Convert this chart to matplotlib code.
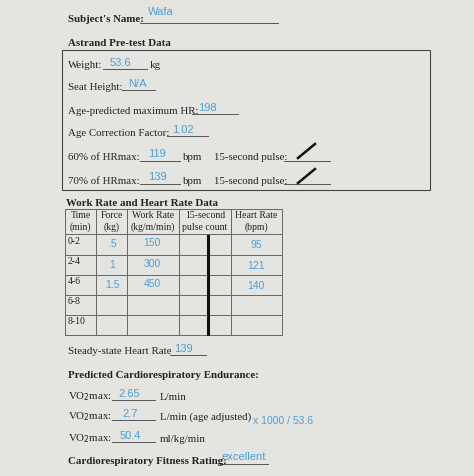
import matplotlib
matplotlib.use("Agg")
import matplotlib.pyplot as plt

times = ["0-2", "2-4", "4-6", "6-8", "8-10"]
forces = [".5", "1", "1.5", "", ""]
work_rates = ["150", "300", "450", "", ""]
heart_rates = ["95", "121", "140", "", ""]
headers = [("Time", "(min)"), ("Force", "(kg)"), ("Work Rate", "(kg/m/min)"),
           ("15-second", "pulse count"), ("Heart Rate", "(bpm)")]
col_x = [65, 96, 127, 179, 231, 282]
row_y = [209, 234, 255, 275, 295, 315, 335]

blue = "#4a9fd8"
ink = "#222222"
serif = "Liberation Serif"
sans = "Liberation Sans"

fig = plt.figure(figsize=(4.74, 4.76), dpi=100)
fig.patch.set_facecolor("#e4e4e1")
ax = fig.add_axes([0, 0, 1, 1])
ax.set_xlim(0, 474); ax.set_ylim(476, 0); ax.axis("off")
ax.set_facecolor("#e4e4e1")

def t(x, y, s, size=7.8, bold=False, color=ink, fam=serif, ha="left"):
    ax.text(x, y, s, fontsize=size, fontweight="bold" if bold else "normal",
            color=color, family=fam, ha=ha, va="center")

def line(x0, x1, y, lw=0.7, color="#555555"):
    ax.plot([x0, x1], [y, y], color=color, lw=lw)

t(68, 20, "Subject's Name:", bold=True)
t(148, 12, "Wafa", color=blue, fam=sans, size=8)
line(140, 278, 23)

t(68, 43, "Astrand Pre-test Data", bold=True)
ax.add_patch(plt.Rectangle((62, 50), 368, 140, fill=False, ec="#444444", lw=0.8))
t(68, 66, "Weight:"); t(110, 63, "53.6", color=blue, fam=sans, size=8); line(103, 147, 69); t(150, 66, "kg")
t(68, 87, "Seat Height:"); t(128, 84, "N/A", color=blue, fam=sans, size=8); line(122, 155, 90)
t(68, 111, "Age-predicted maximum HR:"); t(198, 108, "198", color=blue, fam=sans, size=8); line(192, 238, 114)
t(68, 133, "Age Correction Factor:"); t(172, 130, "1.02", color=blue, fam=sans, size=8); line(167, 208, 136)
t(68, 158, "60% of HRmax:"); t(148, 154, "119", color=blue, fam=sans, size=8); line(140, 180, 161)
t(183, 158, "bpm"); t(214, 158, "15-second pulse:"); line(284, 330, 161)
ax.plot([298, 315], [158, 144], color="#111111", lw=1.8)
t(68, 181, "70% of HRmax:"); t(148, 177, "139", color=blue, fam=sans, size=8); line(140, 180, 184)
t(183, 181, "bpm"); t(214, 181, "15-second pulse:"); line(284, 330, 184)
ax.plot([298, 315], [183, 169], color="#111111", lw=1.8)

t(66, 203, "Work Rate and Heart Rate Data", bold=True)
for x in col_x:
    ax.plot([x, x], [row_y[0], row_y[-1]], color="#666666", lw=0.7)
for y in row_y:
    ax.plot([col_x[0], col_x[-1]], [y, y], color="#666666", lw=0.7)
for i, (a, b) in enumerate(headers):
    cx = (col_x[i] + col_x[i + 1]) / 2
    t(cx, 215, a, size=7, ha="center")
    t(cx, 227, b, size=7, ha="center")
for r in range(5):
    y0 = row_y[r + 1]
    t(68, y0 + 7, times[r], size=7)
    t(112, y0 + 10, forces[r], color=blue, fam=sans, size=7.5, ha="center")
    t(152, y0 + 9, work_rates[r], color=blue, fam=sans, size=7.5, ha="center")
    t(256, y0 + 11, heart_rates[r], color=blue, fam=sans, size=7.5, ha="center")
ax.plot([208, 208], [236, 334], color="#111111", lw=2.2)

t(68, 352, "Steady-state Heart Rate"); t(174, 349, "139", color=blue, fam=sans, size=8); line(170, 206, 355)
t(68, 375, "Predicted Cardiorespiratory Endurance:", bold=True)
t(68, 397, "VO$_2$max:"); t(118, 394, "2.65", color=blue, fam=sans, size=8); line(112, 155, 400); t(160, 397, "L/min")
t(68, 417, "VO$_2$max:"); t(122, 414, "2.7", color=blue, fam=sans, size=8); line(112, 155, 420)
t(160, 417, "L/min (age adjusted)"); t(253, 421, "x 1000 / 53.6", color=blue, fam=sans, size=7.5)
t(68, 439, "VO$_2$max:"); t(120, 436, "50.4", color=blue, fam=sans, size=8); line(112, 155, 442); t(160, 439, "ml/kg/min")
t(68, 461, "Cardiorespiratory Fitness Rating:", bold=True)
t(222, 457, "excellent", color=blue, fam=sans, size=8); line(220, 268, 464)

fig.savefig("out.png", dpi=100, facecolor=fig.get_facecolor())
